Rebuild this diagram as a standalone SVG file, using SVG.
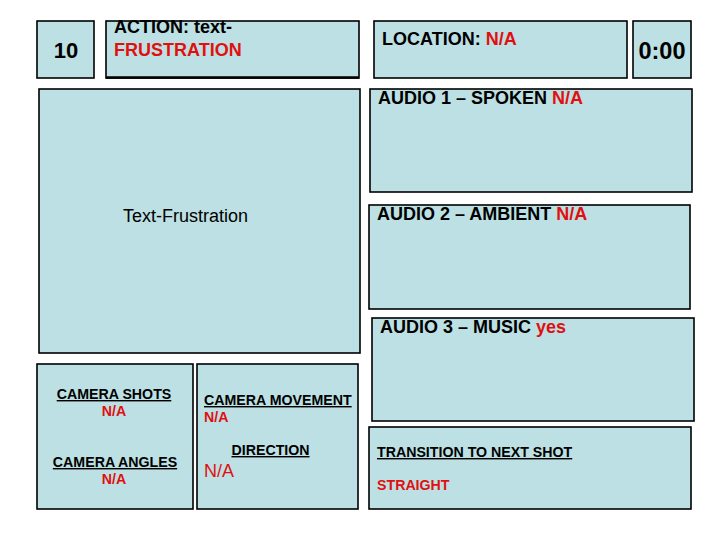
<svg xmlns="http://www.w3.org/2000/svg" width="728" height="546" viewBox="0 0 728 546">
<style>
.box{fill:#bce0e3;stroke:#000;stroke-width:1.6}
text{font-family:"Liberation Sans",Arial,sans-serif;fill:#000}
.b{font-weight:bold}
.r{fill:#e01010}
.u{text-decoration:underline}
.s{font-size:14.2px}
.m{font-size:18px}
</style>
<rect width="728" height="546" fill="#fff"/>
<g id="shot-number"><rect class="box" x="37" y="21" width="57" height="57"/><text class="b" x="66" y="58" font-size="22" text-anchor="middle">10</text></g>
<g id="action"><rect class="box" x="106" y="21" width="253" height="57"/><line x1="106" y1="77.5" x2="359" y2="77.5" stroke="#000" stroke-width="2.5"/><text class="b m" x="114" y="33">ACTION: text-</text><text class="b r m" x="114" y="56">FRUSTRATION</text></g>
<g id="location"><rect class="box" x="374" y="21" width="253" height="57"/><text class="b m" x="382" y="45">LOCATION: <tspan class="r">N/A</tspan></text></g>
<g id="time"><rect class="box" x="633" y="21" width="58" height="57"/><text class="b" x="662" y="59" font-size="23.5" text-anchor="middle">0:00</text></g>
<g id="frame"><rect class="box" x="39" y="89" width="321" height="264"/><text x="185.5" y="222" class="m" text-anchor="middle">Text-Frustration</text></g>
<g id="audio1"><rect class="box" x="370" y="89" width="322" height="103"/><text class="b m" x="378" y="104">AUDIO 1 – SPOKEN <tspan class="r">N/A</tspan></text></g>
<g id="audio2"><rect class="box" x="369" y="205" width="321" height="104"/><text class="b m" x="377" y="220">AUDIO 2 – AMBIENT <tspan class="r">N/A</tspan></text></g>
<g id="audio3"><rect class="box" x="372" y="318" width="322" height="103"/><text class="b m" x="380" y="333">AUDIO 3 – MUSIC <tspan class="r">yes</tspan></text></g>
<g id="transition"><rect class="box" x="369" y="427" width="322" height="82"/><text class="b u s" x="377" y="457">TRANSITION TO NEXT SHOT</text><text class="b r s" x="377" y="490">STRAIGHT</text></g>
<g id="camera-shots"><rect class="box" x="37" y="364" width="156" height="145"/><text class="b u s" x="114" y="399" text-anchor="middle">CAMERA SHOTS</text><text class="b r s" x="114" y="416" text-anchor="middle">N/A</text><text class="b u s" x="115" y="467" text-anchor="middle">CAMERA ANGLES</text><text class="b r s" x="114" y="484" text-anchor="middle">N/A</text></g>
<g id="camera-movement"><rect class="box" x="197" y="364" width="161" height="145"/><text class="b u s" x="204" y="405">CAMERA MOVEMENT</text><text class="b r s" x="204" y="422">N/A</text><text class="b u s" x="270.5" y="455" text-anchor="middle">DIRECTION</text><text class="r" x="204" y="477" font-size="18">N/A</text></g>
<g id="connectors"></g>
</svg>
